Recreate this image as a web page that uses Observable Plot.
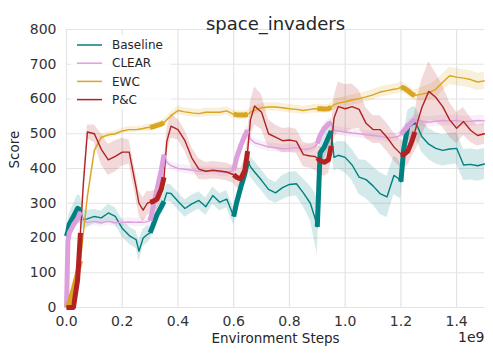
<!DOCTYPE html>
<html><head><meta charset="utf-8">
<script src="https://cdn.jsdelivr.net/npm/d3@7"></script>
<script src="https://cdn.jsdelivr.net/npm/@observablehq/plot@0.6"></script>
<style>body{margin:0;background:#fff} #chart{width:493px;height:360px}</style>
</head><body><div id="chart"></div>
<script>
// Environment steps (units of 1e9)
const steps = [0, 0.005, 0.01, 0.025, 0.04, 0.05, 0.06, 0.075,
  0.1, 0.125, 0.15, 0.175, 0.2, 0.225, 0.25,
  0.26, 0.275, 0.29, 0.3, 0.31, 0.325, 0.34, 0.35, 0.36, 0.375,
  0.4, 0.425, 0.45, 0.475, 0.5, 0.525, 0.55, 0.575, 0.6,
  0.61, 0.625, 0.64, 0.65, 0.66, 0.675, 0.7,
  0.725, 0.75, 0.775, 0.8, 0.825, 0.85, 0.875,
  0.89, 0.9, 0.91, 0.925, 0.94, 0.95, 0.96, 0.975, 1.0,
  1.025, 1.05, 1.075, 1.1, 1.125, 1.15, 1.175,
  1.19, 1.2, 1.21, 1.225, 1.24, 1.25, 1.26, 1.275, 1.3,
  1.325, 1.35, 1.375, 1.4, 1.425, 1.45, 1.475, 1.5];

const baseline = [205, 220, 240, 262, 285, 280, 252, 255,
  262, 258, 272, 262, 228, 207, 195,
  162, 200, 210, 215, 235, 268, 290, 305, 330, 328,
  306, 285, 298, 308, 290, 322, 303, 312, 262,
  300, 345, 385, 423, 405, 390, 366,
  340, 330, 345, 354, 356, 330, 300,
  262, 232, 445, 462, 490, 508, 432, 438, 432,
  410, 375, 368, 350, 328, 318, 380,
  372, 362, 455, 522, 532, 533, 520, 492, 470,
  458, 452, 456, 458, 410, 412, 408, 413];
const baselineSpread = [20, 25, 30, 35, 40, 40, 30, 25,
  20, 20, 25, 25, 25, 25, 25,
  30, 25, 25, 20, 20, 20, 25, 25, 25, 25,
  25, 25, 25, 25, 25, 25, 25, 25, 25,
  25, 25, 25, 25, 30, 30, 30,
  30, 30, 35, 35, 35, 40, 50,
  70, 80, 40, 35, 35, 35, 40, 40, 45,
  45, 50, 55, 55, 60, 60, 55,
  55, 50, 45, 45, 45, 45, 45, 45, 45,
  45, 45, 45, 45, 45, 45, 45, 45];

const clear = [0, 190, 215, 238, 255, 275, 250, 245,
  248, 244, 248, 244, 245, 246, 245,
  246, 245, 247, 250, 285, 340, 395, 440, 418, 408,
  400, 398, 395, 392, 393, 394, 390, 388, 395,
  430, 465, 495, 510, 485, 474, 468,
  462, 460, 457, 458, 460, 455, 457,
  462, 472, 495, 515, 528, 532, 510, 508, 505,
  502, 500, 497, 495, 493, 488, 490,
  492, 498, 508, 522, 535, 542, 538, 536, 533,
  536, 538, 537, 538, 535, 536, 538, 537];
const clearSpread = [5, 15, 15, 15, 15, 15, 12, 12,
  12, 12, 12, 12, 12, 12, 12,
  12, 12, 12, 12, 15, 15, 15, 15, 12, 12,
  12, 12, 12, 12, 12, 12, 12, 12, 12,
  15, 15, 15, 15, 12, 12, 12,
  12, 12, 12, 12, 12, 12, 12,
  12, 12, 15, 15, 15, 15, 12, 12, 12,
  12, 12, 12, 12, 12, 12, 12,
  12, 12, 15, 15, 15, 15, 15, 15, 15,
  15, 15, 15, 15, 15, 15, 15, 15];

const ewc = [0, 5, 15, 55, 100, 135, 210, 320,
  452, 490, 497, 500, 508, 512, 512,
  513, 515, 518, 518, 520, 524, 528, 532, 540, 552,
  567, 563, 560, 558, 562, 562, 562, 566, 556,
  555, 554, 554, 556, 562, 567, 575,
  577, 577, 575, 572, 570, 567, 570,
  572, 572, 572, 571, 572, 576, 584, 588, 592,
  597, 601, 606, 612, 620, 624, 628,
  630, 634, 632, 624, 614, 610, 612, 614, 618,
  628, 648, 667, 663, 660, 656, 649, 652];
const ewcSpread = [2, 3, 5, 8, 10, 10, 10, 10,
  8, 8, 8, 8, 8, 8, 8,
  8, 8, 10, 10, 10, 10, 10, 10, 10, 10,
  12, 12, 12, 12, 12, 12, 12, 12, 12,
  12, 12, 12, 12, 12, 12, 12,
  12, 12, 12, 12, 12, 12, 12,
  12, 12, 12, 12, 12, 15, 15, 15, 15,
  15, 15, 15, 15, 15, 15, 15,
  15, 15, 15, 15, 15, 15, 18, 20, 22,
  25, 25, 25, 25, 25, 25, 25, 25];

const pnc = [0, 0, 0, 0, 80, 215, 350, 505,
  500, 455, 425, 435, 447, 447, 345,
  300, 280, 300, 303, 305, 312, 340, 375, 478, 522,
  512, 480, 430, 398, 392, 395, 393, 390, 382,
  375, 370, 395, 450, 540, 580, 562,
  500, 490, 480, 482, 478, 440, 436,
  435, 430, 422, 418, 425, 465, 545, 578, 572,
  578, 570, 530, 512, 512, 490, 462,
  450, 442, 440, 450, 480, 505, 535, 575, 622,
  605, 578, 540, 516, 535, 510, 495, 500];
const pncSpread = [5, 5, 5, 10, 15, 15, 20, 20,
  25, 45, 45, 45, 40, 35, 35,
  35, 35, 35, 30, 30, 30, 30, 30, 35, 35,
  30, 30, 30, 30, 25, 25, 25, 25, 25,
  30, 30, 35, 40, 50, 55, 50,
  40, 35, 35, 35, 35, 35, 35,
  40, 40, 40, 40, 40, 45, 60, 70, 70,
  65, 55, 45, 40, 40, 40, 40,
  40, 40, 40, 40, 45, 55, 70, 80, 85,
  70, 60, 50, 45, 40, 35, 30, 30];

const names = ["Baseline", "CLEAR", "EWC", "P&C"];
const colors = ["#008080", "#DDA0DD", "#DAA520", "#B22222"];
const activeWindows = [[0, 0.05], [0.3, 0.35], [0.6, 0.65], [0.9, 0.95], [1.2, 1.25]];
const xTicks = [0, 0.2, 0.4, 0.6, 0.8, 1.0, 1.2, 1.4];
const yTicks = [0, 100, 200, 300, 400, 500, 600, 700, 800];

const values = [baseline, clear, ewc, pnc];
const spreads = [baselineSpread, clearSpread, ewcSpread, pncSpread];

const rows = [];
names.forEach((name, s) => {
  const n = Math.min(steps.length, values[s].length, spreads[s].length);
  for (let i = 0; i < n; i++) {
    rows.push({name, x: steps[i], y: values[s][i],
      lo: Math.max(0, values[s][i] - spreads[s][i]), hi: values[s][i] + spreads[s][i]});
  }
});
const thick = [];
names.forEach((name, s) => {
  activeWindows.forEach(([a, b], w) => {
    steps.forEach((x, i) => {
      if (x >= a - 1e-9 && x <= b + 1e-9 && i < values[s].length)
        thick.push({name, key: name + w, x, y: values[s][i]});
    });
  });
});

const gridColor = "#e4e4e4";
const plot = Plot.plot({
  width: 493, height: 360,
  marginLeft: 66, marginRight: 9, marginTop: 29, marginBottom: 53,
  style: {fontFamily: "'DejaVu Sans', sans-serif", fontSize: "14px", color: "#333", background: "#fff", overflow: "visible"},
  x: {domain: [0, 1.5]},
  y: {domain: [0, 800]},
  color: {domain: names, range: colors},
  marks: [
    Plot.gridX(xTicks, {stroke: gridColor, strokeOpacity: 1, strokeWidth: 1.2}),
    Plot.gridY(yTicks, {stroke: gridColor, strokeOpacity: 1, strokeWidth: 1.2}),
    Plot.axisX(xTicks, {tickSize: 0, tickPadding: 9, tickFormat: d3.format(".1f"), label: null}),
    Plot.axisY(yTicks, {tickSize: 0, tickPadding: 10, label: null}),
    Plot.areaY(rows, {x: "x", y1: "lo", y2: "hi", z: "name", fill: "name", fillOpacity: 0.17, clip: true}),
    Plot.line(rows, {x: "x", y: "y", z: "name", stroke: "name", strokeWidth: 1.4}),
    Plot.line(thick, {x: "x", y: "y", z: "key", stroke: "name", strokeWidth: 5, strokeLinecap: "butt"}),
    Plot.text(["space_invaders"], {text: d => d, frameAnchor: "top", dy: -12, fontSize: 18, fill: "#262626"}),
    Plot.text(["Environment Steps"], {text: d => d, frameAnchor: "bottom", dy: 35, fontSize: 13.5, fill: "#262626"}),
    Plot.text(["1e9"], {text: d => d, frameAnchor: "bottom-right", dy: 34, textAnchor: "end", fontSize: 14, fill: "#262626"}),
    Plot.text(["Score"], {text: d => d, frameAnchor: "left", dx: -52, rotate: -90, fontSize: 13.5, fill: "#262626"})
  ]
});
document.getElementById("chart").appendChild(plot);

// legend
const svg = d3.select(plot);
const lg = svg.append("g").attr("font-family", "'DejaVu Sans', sans-serif").attr("font-size", 12)
  .attr("text-anchor", "start");
lg.append("rect").attr("x", 71).attr("y", 35).attr("width", 100).attr("height", 74)
  .attr("fill", "#fff").attr("fill-opacity", 0.8).attr("rx", 3);
names.forEach((name, i) => {
  const y = 45 + i * 18.2;
  lg.append("line").attr("x1", 77).attr("x2", 102).attr("y1", y).attr("y2", y)
    .attr("stroke", colors[i]).attr("stroke-width", 1.5);
  lg.append("text").attr("x", 112).attr("y", y).attr("dy", "0.35em")
    .attr("text-anchor", "start").attr("fill", "#262626").text(name);
});
</script>
</body></html>
